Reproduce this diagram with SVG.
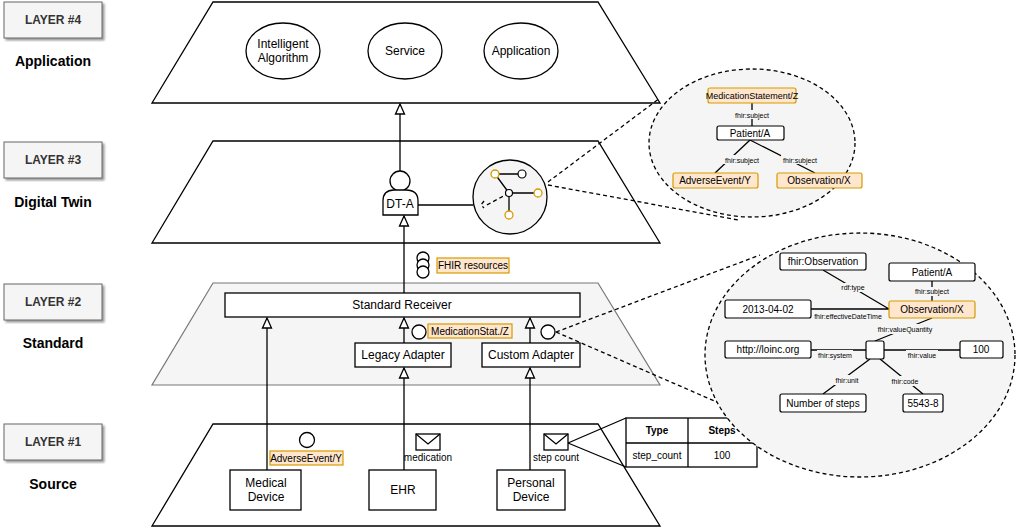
<svg xmlns="http://www.w3.org/2000/svg" width="1026" height="528" viewBox="0 0 1026 528">
<defs>
<marker id="tri" markerWidth="12" markerHeight="12" refX="11" refY="6" orient="auto" markerUnits="userSpaceOnUse" viewBox="0 0 12 12"><path d="M1,1.5 L11,6 L1,10.5 Z" fill="#fff" stroke="#000" stroke-width="1.3"/></marker>
<filter id="sh"><feDropShadow dx="2" dy="2" stdDeviation="0.8" flood-color="#999"/></filter>
</defs>
<style>
text{font-family:"Liberation Sans",Arial,sans-serif;fill:#000}
.t{font-size:12px;text-anchor:middle;dominant-baseline:central}
.s{font-size:10px;text-anchor:middle;dominant-baseline:central}
.xs{font-size:7px;text-anchor:middle;dominant-baseline:central}
.lay{fill:#fff;stroke:#000;stroke-width:1.3}
.box{fill:#fff;stroke:#000;stroke-width:1.3}
.rb{fill:#fff;stroke:#000;stroke-width:1.2}
.or{fill:#FFE6CC;stroke:#D79B00;stroke-width:1.2}
.ln{stroke:#000;stroke-width:1.3;fill:none}
.dash{stroke:#000;stroke-width:1.3;fill:none;stroke-dasharray:4 3}
.lb{fill:#f5f5f5}
.lbl{font-size:12px;font-weight:bold;text-anchor:middle;dominant-baseline:central;fill:#333}
.title{font-size:14px;font-weight:bold;text-anchor:middle;dominant-baseline:central}
</style>
<g id="labels">
<rect x="4" y="2" width="98" height="36" fill="#f5f5f5" stroke="#666" filter="url(#sh)"/><text class="lbl" x="53" y="20">LAYER #4</text><text class="title" x="53" y="61">Application</text>
<rect x="4" y="142" width="98" height="36" fill="#f5f5f5" stroke="#666" filter="url(#sh)"/><text class="lbl" x="53" y="160">LAYER #3</text><text class="title" x="53" y="202">Digital Twin</text>
<rect x="4" y="284" width="98" height="36" fill="#f5f5f5" stroke="#666" filter="url(#sh)"/><text class="lbl" x="53" y="302">LAYER #2</text><text class="title" x="53" y="343">Standard</text>
<rect x="4" y="424" width="98" height="36" fill="#f5f5f5" stroke="#666" filter="url(#sh)"/><text class="lbl" x="53" y="442">LAYER #1</text><text class="title" x="53" y="484">Source</text>
</g>
<g id="layers">
<polygon class="lay" points="213,2 598,2 660,103 152,103"/>
<polygon class="lay" points="213,141 598,141 660,243 152,243"/>
<polygon points="213,283 598,283 660,385 152,385" fill="#f5f5f5" stroke="#777" stroke-width="1.2"/>
<polygon class="lay" points="213,424 598,424 660,526 152,526"/>
</g>
<g id="app-nodes">
<ellipse class="box" cx="283" cy="51" rx="37" ry="28"/><text class="t" x="283" y="44">Intelligent</text><text class="t" x="283" y="58">Algorithm</text>
<ellipse class="box" cx="405" cy="51" rx="37" ry="28"/><text class="t" x="405" y="51">Service</text>
<ellipse class="box" cx="521" cy="51" rx="37" ry="28"/><text class="t" x="521" y="51">Application</text>
</g>
<g id="connectors">
<line class="ln" x1="400" y1="171" x2="400" y2="104" marker-end="url(#tri)"/>
<line class="ln" x1="404" y1="293" x2="404" y2="216" marker-end="url(#tri)"/>
<line class="ln" x1="418" y1="205" x2="473" y2="205"/>
<line class="ln" x1="267" y1="470" x2="267" y2="318" marker-end="url(#tri)"/>
<line class="ln" x1="404" y1="470" x2="404" y2="368" marker-end="url(#tri)"/>
<line class="ln" x1="530" y1="470" x2="530" y2="368" marker-end="url(#tri)"/>
<line class="ln" x1="404" y1="343" x2="404" y2="318" marker-end="url(#tri)"/>
<line class="ln" x1="530" y1="343" x2="530" y2="318" marker-end="url(#tri)"/>
<line class="ln" x1="568" y1="443" x2="626" y2="418"/>
<line class="ln" x1="568" y1="443" x2="626" y2="467"/>
<line class="dash" x1="548" y1="182" x2="660" y2="98"/>
<line class="dash" x1="548" y1="185" x2="738" y2="220"/>
<line class="dash" x1="556" y1="332" x2="760" y2="255"/>
<line class="dash" x1="556" y1="332" x2="758" y2="420"/>
</g>
<g id="dt-a">
<circle class="box" cx="400" cy="181" r="10"/>
<path class="box" d="M383,215 L383,201 Q383,190 394,190 L406,190 Q418,190 418,201 L418,215 Z"/>
<text class="t" x="400" y="204">DT-A</text>
</g>
<g id="graph">
<circle cx="510" cy="197" r="37" fill="#f5f5f5" stroke="#000" stroke-width="1.3"/>
<path class="ln" d="M495,174 L522,174 M495,174 L509,193 L538,193 M509,193 L509,215" stroke-width="1.1"/>
<path class="dash" d="M509,193 L485,206" stroke-width="1"/>
<path d="M484,201 l-3,4 l3,3" class="dash" stroke-width="1"/>
<circle cx="495" cy="174" r="4" fill="#fff" stroke="#D79B00" stroke-width="1.3"/>
<circle cx="522" cy="174" r="4" fill="#fff" stroke="#000" stroke-width="1.2"/>
<circle cx="509" cy="193" r="3.5" fill="#fff" stroke="#000" stroke-width="1.2"/>
<circle cx="538" cy="193" r="4" fill="#fff" stroke="#D79B00" stroke-width="1.3"/>
<circle cx="509" cy="215" r="4" fill="#fff" stroke="#D79B00" stroke-width="1.3"/>
</g>
<g id="fhir-resources">
<circle class="box" cx="423" cy="258" r="6"/><circle class="box" cx="423" cy="265" r="6"/><circle class="box" cx="423" cy="272" r="6"/>
<rect class="or" x="437" y="258" width="72" height="15"/><text class="s" x="473" y="265.5">FHIR resources</text>
</g>
<g id="receiver">
<rect class="box" x="225" y="293" width="355" height="24"/><text class="t" x="402" y="305">Standard Receiver</text>
</g>
<g id="adapters">
<circle class="box" cx="419" cy="332" r="7"/>
<rect class="or" x="428" y="324" width="84" height="14"/><text class="s" x="470" y="331">MedicationStat./Z</text>
<circle class="box" cx="548" cy="332" r="7"/>
<rect class="box" x="355" y="343" width="96" height="24"/><text class="t" x="403" y="355">Legacy Adapter</text>
<rect class="box" x="482" y="343" width="98" height="24"/><text class="t" x="531" y="355">Custom Adapter</text>
</g>
<g id="sources">
<rect class="box" x="230" y="470" width="71" height="40"/><text class="t" x="266" y="483">Medical</text><text class="t" x="266" y="497">Device</text>
<rect class="box" x="369" y="470" width="67" height="40"/><text class="t" x="403" y="490">EHR</text>
<rect class="box" x="497" y="470" width="68" height="40"/><text class="t" x="531" y="483">Personal</text><text class="t" x="531" y="497">Device</text>
<circle class="box" cx="307" cy="440" r="7.5"/>
<rect class="or" x="270" y="451" width="73" height="14"/><text class="s" x="306" y="458">AdverseEvent/Y</text>
<rect class="box" x="416" y="434" width="24" height="16"/><path class="ln" d="M416,434 L428,444 L440,434"/>
<text class="s" x="428" y="457">medication</text>
<rect class="box" x="544" y="434" width="24" height="16"/><path class="ln" d="M544,434 L556,444 L568,434"/>
<text class="s" x="556" y="457">step count</text>
</g>
<g id="table">
<rect class="box" x="626" y="418" width="131" height="49"/>
<line class="ln" x1="688" y1="418" x2="688" y2="467"/><line class="ln" x1="626" y1="443" x2="757" y2="443"/>
<text class="s" x="657" y="430" style="font-weight:bold">Type</text>
<text class="s" x="722" y="430" style="font-weight:bold">Steps</text>
<text class="s" x="657" y="455">step_count</text>
<text class="s" x="722" y="455">100</text>
</g>
<g id="zoom-dt">
<ellipse cx="752" cy="143" rx="103" ry="74" fill="#f5f5f5" stroke="#000" stroke-width="1.3" stroke-dasharray="4 3"/>
<path class="ln" d="M752,103 L752,126 M750,140 L715,173 M750,140 L815,173" stroke-width="1.1"/>
<rect class="or" x="708" y="88" width="88" height="15" rx="2"/><text class="s" x="752" y="95.5" style="font-size:9px">MedicationStatement/Z</text>
<rect class="lb" x="733" y="110" width="38" height="9"/><text class="xs" x="752" y="115">fhir:subject</text>
<rect class="rb" x="717" y="126" width="67" height="14" rx="2"/><text class="s" x="750" y="133">Patient/A</text>
<rect class="lb" x="723" y="155" width="38" height="9"/><text class="xs" x="742" y="160">fhir:subject</text>
<rect class="lb" x="781" y="155" width="38" height="9"/><text class="xs" x="800" y="160">fhir:subject</text>
<rect class="or" x="673" y="173" width="85" height="15" rx="2"/><text class="s" x="715" y="180.5">AdverseEvent/Y</text>
<rect class="or" x="777" y="173" width="85" height="15" rx="2"/><text class="s" x="819" y="180.5">Observation/X</text>
</g>
<g id="zoom-std">
<ellipse cx="860" cy="355" rx="155" ry="122" fill="#f5f5f5" stroke="#000" stroke-width="1.3" stroke-dasharray="4 3"/>
<path class="ln" stroke-width="1.1" d="M823,270 L889,309 M932,281 L932,301 M811,309 L889,309 M932,318 L875,341 M811,350 L866,350 M884,350 L960,350 M870,359 L823,394 M880,359 L923,394"/>
<rect class="rb" x="780" y="253" width="86" height="17" rx="2"/><text class="s" x="823" y="261.5">fhir:Observation</text>
<rect class="rb" x="889" y="263" width="86" height="18" rx="2"/><text class="s" x="932" y="272">Patient/A</text>
<rect class="or" x="889" y="301" width="86" height="17" rx="2"/><text class="s" x="932" y="309.5">Observation/X</text>
<rect class="rb" x="725" y="300" width="86" height="18" rx="2"/><text class="s" x="768" y="309">2013-04-02</text>
<rect class="rb" x="725" y="341" width="86" height="17" rx="2"/><text class="s" x="768" y="349.5">http://loinc.org</text>
<rect class="rb" x="866" y="341" width="18" height="18" rx="2"/>
<rect class="rb" x="960" y="341" width="43" height="17" rx="2"/><text class="s" x="981" y="349.5">100</text>
<rect class="rb" x="780" y="394" width="86" height="18" rx="2"/><text class="s" x="823" y="403">Number of steps</text>
<rect class="rb" x="903" y="394" width="40" height="18" rx="2"/><text class="s" x="923" y="403">5543-8</text>
<rect class="lb" x="840" y="283" width="26" height="9"/><text class="xs" x="853" y="287">rdf:type</text>
<rect class="lb" x="913" y="287" width="38" height="9"/><text class="xs" x="932" y="291">fhir:subject</text>
<rect class="lb" x="813" y="311" width="70" height="10"/><text class="xs" x="848" y="316">fhir:effectiveDateTime</text>
<rect class="lb" x="878" y="324" width="54" height="10"/><text class="xs" x="905" y="329">fhir:valueQuantity</text>
<rect class="lb" x="817" y="350" width="36" height="10"/><text class="xs" x="835" y="355">fhir:system</text>
<rect class="lb" x="906" y="350" width="32" height="10"/><text class="xs" x="922" y="355">fhir:value</text>
<rect class="lb" x="833" y="375" width="28" height="10"/><text class="xs" x="847" y="380">fhir:unit</text>
<rect class="lb" x="890" y="376" width="30" height="10"/><text class="xs" x="905" y="381">fhir:code</text>
</g>
</svg>
